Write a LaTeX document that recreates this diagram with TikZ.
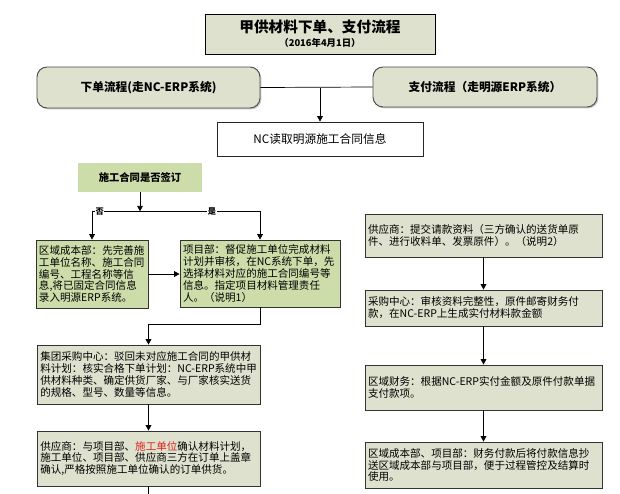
\documentclass[tikz,border=0pt]{standalone}
\usepackage{fontspec}
\setmainfont{Noto Sans CJK SC}
\usepackage{xcolor}
\usepackage{tikz}
\usetikzlibrary{
  positioning,
  arrows.meta,
  calc,
  shadows
}
\definecolor{paleolive}{RGB}{221,225,205}
\definecolor{leafgreen}{RGB}{205,221,170}
\definecolor{markred}{RGB}{224,32,30}
\tikzset{
  link/.style={-{Triangle[length=1.6mm,width=1.7mm]},line width=0.6pt},
  plainlink/.style={line width=0.6pt},
  titlebox/.style={rectangle,draw=black,line width=0.8pt,fill=paleolive,align=center,inner sep=0pt},
  flowhead/.style={rectangle,draw=black!70,line width=0.8pt,rounded corners=3mm,fill=paleolive,inner sep=0pt,font=\fontsize{10}{12}\selectfont\bfseries,drop shadow={shadow xshift=0.4mm,shadow yshift=-0.4mm,fill=black!45}},
  ncbox/.style={rectangle,draw=black!85,line width=0.8pt,fill=white,inner sep=0pt,font=\fontsize{10}{12}\selectfont},
  askbox/.style={rectangle,fill=leafgreen,inner sep=0pt,font=\fontsize{8.8}{10}\selectfont\bfseries},
  notebox/.style={rectangle,draw=black!80,line width=0.8pt,fill=paleolive,align=left,inner xsep=1mm,inner ysep=0pt,font=\fontsize{9}{10.2}\selectfont},
  greenbox/.style={notebox,fill=leafgreen,inner xsep=0.9mm},
  branchlabel/.style={fill=white,inner sep=0.4pt,font=\fontsize{7}{8}\selectfont\bfseries}
}

\begin{document}
\begin{tikzpicture}[x=0.03cm,y=-0.03cm]
    \useasboundingbox (0,0) rectangle (620,493);
    % heading and the two flows
    \node[titlebox,minimum width=6.9cm,minimum height=1.2cm] (title) at (320,34) {{\fontsize{12.5}{15}\selectfont\bfseries 甲供材料下单、支付流程}\\{\fontsize{8}{10}\selectfont\bfseries （2016年4月1日）}};
    \node[flowhead,minimum width=6.69cm,minimum height=1.23cm] (order) at (148.5,87.5) {下单流程(走NC-ERP系统)};
    \node[flowhead,minimum width=6.72cm,minimum height=1.2cm] (payment) at (485,87) {支付流程（走明源ERP系统）};
    \node[ncbox,minimum width=6.18cm,minimum height=1.02cm] (ncread) at (320,139) {NC读取明源施工合同信息};

    % ordering side
    \node[askbox,minimum width=3.72cm,minimum height=0.87cm] (signed) at (140,177.5) {施工合同是否签订};
    \node[greenbox,text width=3.18cm,minimum height=2.04cm] (costdept) at (92,274) {区域成本部：先完善施\\工单位名称、施工合同\\编号、工程名称等信\\息,将已固定合同信息\\录入明源ERP系统。};
    \node[greenbox,text width=4.62cm,minimum height=2.01cm] (projdept) at (260,273.5) {项目部：督促施工单位完成材料\\计划并审核，在NC系统下单，先\\选择材料对应的施工合同编号等\\信息。指定项目材料管理责任\\人。（说明1）};
    \node[notebox,text width=6.49cm,minimum height=1.77cm] (purchase) at (148.5,374.5) {集团采购中心：驳回未对应施工合同的甲供材\\料计划：核实合格下单计划：\mbox{NC-ERP}系统中甲\\供材料种类、确定供货厂家、与厂家核实送货\\的规格、型号、数量等信息。};
    \node[notebox,text width=6.49cm,minimum height=1.65cm] (supplier) at (148.5,458.5) {供应商：与项目部、\textcolor{markred}{施工单位}确认材料计划，\\施工单位、项目部、供应商三方在订单上盖章\\确认,严格按照施工单位确认的订单供货。};

    % payment side
    \node[notebox,inner xsep=0.9mm,text width=6.93cm,minimum height=1.29cm] (claim) at (483.5,235.5) {供应商：提交请款资料（三方确认的送货单原\\件、进行收料单、发票原件）。（说明2）};
    \node[notebox,inner xsep=0.9mm,text width=6.93cm,minimum height=1.08cm] (audit) at (483.5,308) {采购中心：审核资料完整性，原件邮寄财务付\\款，在NC-ERP上生成实付材料款金额};
    \node[notebox,inner xsep=0.9mm,text width=6.93cm,minimum height=1.35cm] (finance) at (483.5,387.5) {区域财务：根据NC-ERP实付金额及原件付款单据\\支付款项。};
    \node[notebox,inner xsep=0.9mm,text width=6.93cm,minimum height=1.38cm] (notify) at (483.5,465) {区域成本部、项目部：财务付款后将付款信息抄\\送区域成本部与项目部，便于过程管控及结算时\\使用。};

    % connectors
    \draw[plainlink] (order.east) -- (payment.west);
    \draw[link] (ncread.north |- order.east) -- (ncread.north);
    \coordinate (split) at ($(signed.south)+(0,19)$);
    \draw[link] (signed.south) -- (split);
    \draw[link] (split) -| node[branchlabel,pos=0.42]{否} (costdept.north);
    \draw[link] (split) -| node[branchlabel,pos=0.3]{是} (projdept.north);
    \draw[link] (costdept.east) -- (costdept.east -| projdept.west);
    \draw[link] (projdept.south) -- ++(0,17) -| (purchase.north);
    \draw[link] (purchase.south) -- (supplier.north);
    \draw[plainlink] (supplier.south) -- ++(0,10);
    \draw[link] (claim.south) -- (audit.north);
    \draw[link] (audit.south) -- (finance.north);
    \draw[link] (finance.south) -- (notify.north);
\end{tikzpicture}
\end{document}
